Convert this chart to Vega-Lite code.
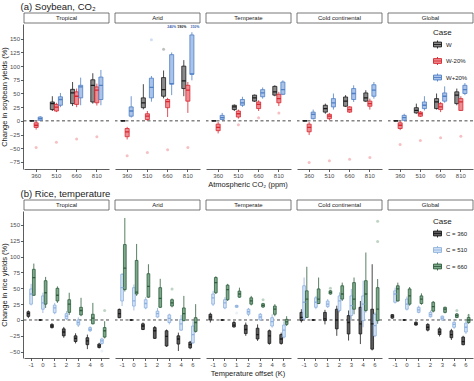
{
"$schema":"https://vega.github.io/schema/vega-lite/v6.json",
"padding":{"left":0,"top":2,"right":0,"bottom":0},
"background":"white",
"datasets":{
"regions":[{"r":"Tropical"},{"r":"Arid"},{"r":"Temperate"},{"r":"Cold continental"},{"r":"Global"}],
"top":[
{"k":"b","r":"Tropical","x":"360","c":"W","lo":0,"q1":0,"md":0,"q3":0,"hi":0},
{"k":"b","r":"Tropical","x":"360","c":"W-20%","lo":-16,"q1":-12,"md":-8,"q3":-3.6,"hi":0},
{"k":"b","r":"Tropical","x":"360","c":"W+20%","lo":0,"q1":1,"md":4,"q3":7,"hi":8.5},
{"k":"b","r":"Tropical","x":"510","c":"W","lo":18,"q1":20.6,"md":31.5,"q3":34.5,"hi":45},
{"k":"b","r":"Tropical","x":"510","c":"W-20%","lo":16,"q1":18,"md":25,"q3":30,"hi":33},
{"k":"b","r":"Tropical","x":"510","c":"W+20%","lo":25,"q1":28.5,"md":39,"q3":44,"hi":51},
{"k":"b","r":"Tropical","x":"660","c":"W","lo":27,"q1":31.5,"md":51,"q3":57.6,"hi":71},
{"k":"b","r":"Tropical","x":"660","c":"W-20%","lo":25,"q1":30,"md":45,"q3":53,"hi":59},
{"k":"b","r":"Tropical","x":"660","c":"W+20%","lo":28.5,"q1":42,"md":62,"q3":65,"hi":79},
{"k":"b","r":"Tropical","x":"810","c":"W","lo":31.5,"q1":34.5,"md":65,"q3":75,"hi":87},
{"k":"b","r":"Tropical","x":"810","c":"W-20%","lo":28,"q1":33,"md":56,"q3":62,"hi":68},
{"k":"b","r":"Tropical","x":"810","c":"W+20%","lo":28.5,"q1":39,"md":65,"q3":80,"hi":93},
{"k":"b","r":"Arid","x":"360","c":"W","lo":0,"q1":0,"md":0,"q3":0,"hi":0},
{"k":"b","r":"Arid","x":"360","c":"W-20%","lo":-34,"q1":-29,"md":-20,"q3":-14,"hi":-11},
{"k":"b","r":"Arid","x":"360","c":"W+20%","lo":6,"q1":8.5,"md":18,"q3":25.5,"hi":45},
{"k":"b","r":"Arid","x":"510","c":"W","lo":21,"q1":24,"md":33,"q3":42,"hi":67},
{"k":"b","r":"Arid","x":"510","c":"W-20%","lo":0,"q1":2.4,"md":8.5,"q3":13,"hi":18},
{"k":"b","r":"Arid","x":"510","c":"W+20%","lo":35,"q1":42,"md":61,"q3":78,"hi":82},
{"k":"b","r":"Arid","x":"660","c":"W","lo":41,"q1":45,"md":57,"q3":79,"hi":92},
{"k":"b","r":"Arid","x":"660","c":"W-20%","lo":7,"q1":24,"md":35,"q3":39,"hi":42},
{"k":"b","r":"Arid","x":"660","c":"W+20%","lo":47,"q1":67,"md":68,"q3":121,"hi":125},
{"k":"b","r":"Arid","x":"810","c":"W","lo":45,"q1":59,"md":73,"q3":100,"hi":111},
{"k":"b","r":"Arid","x":"810","c":"W-20%","lo":14.5,"q1":36,"md":56,"q3":65,"hi":71},
{"k":"b","r":"Arid","x":"810","c":"W+20%","lo":74,"q1":85,"md":86,"q3":157,"hi":162},
{"k":"b","r":"Temperate","x":"360","c":"W","lo":0,"q1":0,"md":0,"q3":0,"hi":0},
{"k":"b","r":"Temperate","x":"360","c":"W-20%","lo":-23,"q1":-18,"md":-12,"q3":-6,"hi":-2},
{"k":"b","r":"Temperate","x":"360","c":"W+20%","lo":1,"q1":2.4,"md":6,"q3":10,"hi":14.5},
{"k":"b","r":"Temperate","x":"510","c":"W","lo":18,"q1":20.6,"md":25.5,"q3":28.5,"hi":30},
{"k":"b","r":"Temperate","x":"510","c":"W-20%","lo":4,"q1":7,"md":13,"q3":18,"hi":20.6},
{"k":"b","r":"Temperate","x":"510","c":"W+20%","lo":25.5,"q1":28.5,"md":33,"q3":39,"hi":44},
{"k":"b","r":"Temperate","x":"660","c":"W","lo":34.5,"q1":36,"md":42,"q3":47,"hi":48},
{"k":"b","r":"Temperate","x":"660","c":"W-20%","lo":18,"q1":22.4,"md":30,"q3":34.5,"hi":37.6},
{"k":"b","r":"Temperate","x":"660","c":"W+20%","lo":40.6,"q1":44,"md":51,"q3":57,"hi":61},
{"k":"b","r":"Temperate","x":"810","c":"W","lo":45,"q1":47,"md":53,"q3":63,"hi":65},
{"k":"b","r":"Temperate","x":"810","c":"W-20%","lo":27,"q1":33,"md":40.6,"q3":48.5,"hi":53},
{"k":"b","r":"Temperate","x":"810","c":"W+20%","lo":47,"q1":48.5,"md":57,"q3":71,"hi":74},
{"k":"b","r":"Cold continental","x":"360","c":"W","lo":0,"q1":0,"md":0,"q3":0,"hi":0},
{"k":"b","r":"Cold continental","x":"360","c":"W-20%","lo":-26,"q1":-20,"md":-12,"q3":-6,"hi":-2},
{"k":"b","r":"Cold continental","x":"360","c":"W+20%","lo":2.4,"q1":4,"md":12,"q3":16,"hi":20.6},
{"k":"b","r":"Cold continental","x":"510","c":"W","lo":13,"q1":16,"md":22.4,"q3":28.5,"hi":31.5},
{"k":"b","r":"Cold continental","x":"510","c":"W-20%","lo":1,"q1":4,"md":8.5,"q3":12,"hi":14.5},
{"k":"b","r":"Cold continental","x":"510","c":"W+20%","lo":20.6,"q1":25.5,"md":33,"q3":40.6,"hi":50},
{"k":"b","r":"Cold continental","x":"660","c":"W","lo":25.5,"q1":26.7,"md":36,"q3":43.6,"hi":47},
{"k":"b","r":"Cold continental","x":"660","c":"W-20%","lo":14.5,"q1":16,"md":20.6,"q3":25.5,"hi":26.7},
{"k":"b","r":"Cold continental","x":"660","c":"W+20%","lo":34.5,"q1":39,"md":50,"q3":59,"hi":65},
{"k":"b","r":"Cold continental","x":"810","c":"W","lo":34.5,"q1":36,"md":42,"q3":51,"hi":56},
{"k":"b","r":"Cold continental","x":"810","c":"W-20%","lo":20.6,"q1":26.7,"md":31.5,"q3":36,"hi":40.6},
{"k":"b","r":"Cold continental","x":"810","c":"W+20%","lo":40.6,"q1":45,"md":56,"q3":66,"hi":71},
{"k":"b","r":"Global","x":"360","c":"W","lo":0,"q1":0,"md":0,"q3":0,"hi":0},
{"k":"b","r":"Global","x":"360","c":"W-20%","lo":-17,"q1":-14,"md":-8,"q3":-3.6,"hi":0},
{"k":"b","r":"Global","x":"360","c":"W+20%","lo":0,"q1":1,"md":6,"q3":10,"hi":13},
{"k":"b","r":"Global","x":"510","c":"W","lo":13,"q1":14.5,"md":19,"q3":24,"hi":31.5},
{"k":"b","r":"Global","x":"510","c":"W-20%","lo":7,"q1":8.5,"md":13,"q3":16,"hi":18},
{"k":"b","r":"Global","x":"510","c":"W+20%","lo":19,"q1":22.4,"md":28.5,"q3":34.5,"hi":45},
{"k":"b","r":"Global","x":"660","c":"W","lo":20.6,"q1":22.4,"md":34.5,"q3":40.6,"hi":50},
{"k":"b","r":"Global","x":"660","c":"W-20%","lo":16,"q1":20.6,"md":25.5,"q3":31.5,"hi":34.5},
{"k":"b","r":"Global","x":"660","c":"W+20%","lo":33,"q1":36,"md":45,"q3":51,"hi":63},
{"k":"b","r":"Global","x":"810","c":"W","lo":28.5,"q1":31.5,"md":47,"q3":53,"hi":59},
{"k":"b","r":"Global","x":"810","c":"W-20%","lo":18,"q1":19,"md":34.5,"q3":40.6,"hi":45},
{"k":"b","r":"Global","x":"810","c":"W+20%","lo":47,"q1":50,"md":57,"q3":65,"hi":69},
{"k":"o","r":"Tropical","x":"360","c":"W-20%","v":-48.5},
{"k":"o","r":"Tropical","x":"510","c":"W-20%","v":-39},
{"k":"o","r":"Tropical","x":"660","c":"W-20%","v":-33},
{"k":"o","r":"Tropical","x":"810","c":"W-20%","v":-29},
{"k":"o","r":"Arid","x":"360","c":"W-20%","v":-64},
{"k":"o","r":"Arid","x":"510","c":"W-20%","v":-58},
{"k":"o","r":"Arid","x":"510","c":"W+20%","v":148},
{"k":"o","r":"Arid","x":"660","c":"W","v":131},
{"k":"o","r":"Arid","x":"660","c":"W-20%","v":-53},
{"k":"o","r":"Arid","x":"810","c":"W-20%","v":-48.5},
{"k":"o","r":"Temperate","x":"510","c":"W-20%","v":-7},
{"k":"o","r":"Temperate","x":"660","c":"W-20%","v":5.5},
{"k":"o","r":"Temperate","x":"810","c":"W-20%","v":14.5},
{"k":"o","r":"Cold continental","x":"360","c":"W-20%","v":-76},
{"k":"o","r":"Cold continental","x":"510","c":"W-20%","v":-73},
{"k":"o","r":"Cold continental","x":"660","c":"W-20%","v":-70},
{"k":"o","r":"Cold continental","x":"810","c":"W-20%","v":-67},
{"k":"o","r":"Global","x":"360","c":"W-20%","v":-43},
{"k":"o","r":"Global","x":"510","c":"W-20%","v":-36},
{"k":"o","r":"Global","x":"660","c":"W-20%","v":-31},
{"k":"o","r":"Global","x":"810","c":"W-20%","v":-28},
{"k":"a","r":"Arid","x":"660","c":"W+20%","lab":"240%"},
{"k":"a","r":"Arid","x":"810","c":"W","lab":"190%"},
{"k":"a","r":"Arid","x":"810","c":"W+20%","lab":"310%"}
],
"bot":[
{"k":"b","r":"Tropical","x":"-1","c":"C = 360","lo":3,"q1":5.7,"md":10,"q3":13,"hi":15},
{"k":"b","r":"Tropical","x":"-1","c":"C = 510","lo":23,"q1":25,"md":41,"q3":49,"hi":57},
{"k":"b","r":"Tropical","x":"-1","c":"C = 660","lo":38,"q1":39,"md":67,"q3":80,"hi":89},
{"k":"b","r":"Tropical","x":"0","c":"C = 360","lo":0,"q1":0,"md":0,"q3":0,"hi":0},
{"k":"b","r":"Tropical","x":"0","c":"C = 510","lo":11,"q1":17,"md":27,"q3":38,"hi":43},
{"k":"b","r":"Tropical","x":"0","c":"C = 660","lo":19,"q1":25,"md":43,"q3":62,"hi":68},
{"k":"b","r":"Tropical","x":"1","c":"C = 360","lo":-13.5,"q1":-12,"md":-9.5,"q3":-7,"hi":-5},
{"k":"b","r":"Tropical","x":"1","c":"C = 510","lo":9,"q1":11.5,"md":19,"q3":23.5,"hi":27},
{"k":"b","r":"Tropical","x":"1","c":"C = 660","lo":27,"q1":30,"md":39,"q3":50,"hi":53},
{"k":"b","r":"Tropical","x":"2","c":"C = 360","lo":-28,"q1":-25,"md":-19,"q3":-14,"hi":-11},
{"k":"b","r":"Tropical","x":"2","c":"C = 510","lo":0,"q1":2,"md":6,"q3":10,"hi":14},
{"k":"b","r":"Tropical","x":"2","c":"C = 660","lo":8,"q1":12,"md":25,"q3":32,"hi":43},
{"k":"b","r":"Tropical","x":"3","c":"C = 360","lo":-37,"q1":-34,"md":-29,"q3":-25,"hi":-21},
{"k":"b","r":"Tropical","x":"3","c":"C = 510","lo":-11,"q1":-8,"md":-4,"q3":0,"hi":4},
{"k":"b","r":"Tropical","x":"3","c":"C = 660","lo":6,"q1":8,"md":15,"q3":20,"hi":35},
{"k":"b","r":"Tropical","x":"4","c":"C = 360","lo":-46,"q1":-39,"md":-33,"q3":-28,"hi":-23},
{"k":"b","r":"Tropical","x":"4","c":"C = 510","lo":-19,"q1":-17,"md":-15,"q3":-12,"hi":-10},
{"k":"b","r":"Tropical","x":"4","c":"C = 660","lo":-7,"q1":-6,"md":3,"q3":9,"hi":27},
{"k":"b","r":"Tropical","x":"6","c":"C = 360","lo":-45,"q1":-43.5,"md":-41,"q3":-38,"hi":-36},
{"k":"b","r":"Tropical","x":"6","c":"C = 510","lo":-39,"q1":-37,"md":-33,"q3":-30,"hi":-28},
{"k":"b","r":"Tropical","x":"6","c":"C = 660","lo":-29,"q1":-27,"md":-17,"q3":-12,"hi":-2},
{"k":"b","r":"Arid","x":"-1","c":"C = 360","lo":3,"q1":3.6,"md":10,"q3":16.7,"hi":18},
{"k":"b","r":"Arid","x":"-1","c":"C = 510","lo":22,"q1":30,"md":51,"q3":72,"hi":74},
{"k":"b","r":"Arid","x":"-1","c":"C = 660","lo":45,"q1":48,"md":82,"q3":119,"hi":161},
{"k":"b","r":"Arid","x":"0","c":"C = 360","lo":0,"q1":0,"md":0,"q3":0,"hi":0},
{"k":"b","r":"Arid","x":"0","c":"C = 510","lo":15,"q1":22,"md":30,"q3":51,"hi":56},
{"k":"b","r":"Arid","x":"0","c":"C = 660","lo":38,"q1":41,"md":44,"q3":94,"hi":120},
{"k":"b","r":"Arid","x":"1","c":"C = 360","lo":-16,"q1":-15,"md":-9.5,"q3":-6,"hi":-4},
{"k":"b","r":"Arid","x":"1","c":"C = 510","lo":17,"q1":19,"md":26,"q3":32,"hi":36},
{"k":"b","r":"Arid","x":"1","c":"C = 660","lo":35,"q1":36,"md":53,"q3":73,"hi":88},
{"k":"b","r":"Arid","x":"2","c":"C = 360","lo":-30,"q1":-29,"md":-17,"q3":-12,"hi":-9.5},
{"k":"b","r":"Arid","x":"2","c":"C = 510","lo":3.6,"q1":4.7,"md":10,"q3":14,"hi":19},
{"k":"b","r":"Arid","x":"2","c":"C = 660","lo":19,"q1":20,"md":34,"q3":51,"hi":65},
{"k":"b","r":"Arid","x":"3","c":"C = 360","lo":-42.5,"q1":-41,"md":-26,"q3":-17,"hi":-15},
{"k":"b","r":"Arid","x":"3","c":"C = 510","lo":-7,"q1":-4,"md":2.6,"q3":8,"hi":10},
{"k":"b","r":"Arid","x":"3","c":"C = 660","lo":20,"q1":22,"md":27,"q3":32,"hi":34},
{"k":"b","r":"Arid","x":"4","c":"C = 360","lo":-49,"q1":-38,"md":-30,"q3":-25,"hi":-20},
{"k":"b","r":"Arid","x":"4","c":"C = 510","lo":-17,"q1":-16,"md":-6,"q3":1,"hi":8},
{"k":"b","r":"Arid","x":"4","c":"C = 660","lo":-2,"q1":-1,"md":10,"q3":19,"hi":38},
{"k":"b","r":"Arid","x":"6","c":"C = 360","lo":-46,"q1":-44,"md":-39,"q3":-35,"hi":-33},
{"k":"b","r":"Arid","x":"6","c":"C = 510","lo":-38,"q1":-36,"md":-23,"q3":-9.5,"hi":-2},
{"k":"b","r":"Arid","x":"6","c":"C = 660","lo":-20,"q1":-18,"md":-4,"q3":3.6,"hi":25},
{"k":"b","r":"Temperate","x":"-1","c":"C = 360","lo":-4,"q1":0,"md":5,"q3":9,"hi":11.5},
{"k":"b","r":"Temperate","x":"-1","c":"C = 510","lo":22,"q1":25,"md":35,"q3":41,"hi":46},
{"k":"b","r":"Temperate","x":"-1","c":"C = 660","lo":41,"q1":43,"md":59,"q3":67,"hi":69},
{"k":"b","r":"Temperate","x":"0","c":"C = 360","lo":0,"q1":0,"md":0,"q3":0,"hi":0},
{"k":"b","r":"Temperate","x":"0","c":"C = 510","lo":17,"q1":19,"md":27,"q3":32,"hi":36},
{"k":"b","r":"Temperate","x":"0","c":"C = 660","lo":30,"q1":32,"md":48,"q3":55,"hi":57},
{"k":"b","r":"Temperate","x":"1","c":"C = 360","lo":-12,"q1":-11,"md":-8,"q3":-4,"hi":-1.6},
{"k":"b","r":"Temperate","x":"1","c":"C = 510","lo":19,"q1":20,"md":22,"q3":23,"hi":24},
{"k":"b","r":"Temperate","x":"1","c":"C = 660","lo":35,"q1":36,"md":41,"q3":45.6,"hi":51},
{"k":"b","r":"Temperate","x":"2","c":"C = 360","lo":-25,"q1":-21.5,"md":-15,"q3":-8,"hi":-4},
{"k":"b","r":"Temperate","x":"2","c":"C = 510","lo":6,"q1":9,"md":13,"q3":17,"hi":19},
{"k":"b","r":"Temperate","x":"2","c":"C = 660","lo":23,"q1":25,"md":30,"q3":35,"hi":38},
{"k":"b","r":"Temperate","x":"3","c":"C = 360","lo":-33,"q1":-30,"md":-23,"q3":-13,"hi":-7},
{"k":"b","r":"Temperate","x":"3","c":"C = 510","lo":-1,"q1":0,"md":4.7,"q3":9,"hi":11},
{"k":"b","r":"Temperate","x":"3","c":"C = 660","lo":19,"q1":20.5,"md":23,"q3":25.7,"hi":27},
{"k":"b","r":"Temperate","x":"4","c":"C = 360","lo":-39,"q1":-37,"md":-25,"q3":-17,"hi":-15},
{"k":"b","r":"Temperate","x":"4","c":"C = 510","lo":-12,"q1":-9.5,"md":-2.7,"q3":3.6,"hi":9},
{"k":"b","r":"Temperate","x":"4","c":"C = 660","lo":6,"q1":9,"md":17,"q3":22,"hi":25},
{"k":"b","r":"Temperate","x":"6","c":"C = 360","lo":-39,"q1":-37,"md":-30,"q3":-23,"hi":-20},
{"k":"b","r":"Temperate","x":"6","c":"C = 510","lo":-29,"q1":-27,"md":-16,"q3":-8,"hi":-2},
{"k":"b","r":"Temperate","x":"6","c":"C = 660","lo":-9.5,"q1":-7,"md":-3,"q3":1,"hi":6},
{"k":"b","r":"Cold continental","x":"-1","c":"C = 360","lo":-4,"q1":-1,"md":4,"q3":12,"hi":17},
{"k":"b","r":"Cold continental","x":"-1","c":"C = 510","lo":0,"q1":1.6,"md":28,"q3":54,"hi":67},
{"k":"b","r":"Cold continental","x":"-1","c":"C = 660","lo":4,"q1":4,"md":33,"q3":46,"hi":84},
{"k":"b","r":"Cold continental","x":"0","c":"C = 360","lo":0,"q1":0,"md":0,"q3":0,"hi":0},
{"k":"b","r":"Cold continental","x":"0","c":"C = 510","lo":17,"q1":20,"md":28,"q3":35,"hi":38},
{"k":"b","r":"Cold continental","x":"0","c":"C = 660","lo":25,"q1":26,"md":33,"q3":49,"hi":67},
{"k":"b","r":"Cold continental","x":"1","c":"C = 360","lo":-7,"q1":-1,"md":1.6,"q3":12,"hi":16},
{"k":"b","r":"Cold continental","x":"1","c":"C = 510","lo":19,"q1":21,"md":25,"q3":30,"hi":33},
{"k":"b","r":"Cold continental","x":"1","c":"C = 660","lo":40,"q1":41,"md":43.6,"q3":46,"hi":47},
{"k":"b","r":"Cold continental","x":"2","c":"C = 360","lo":-25,"q1":-14,"md":0,"q3":17,"hi":22.5},
{"k":"b","r":"Cold continental","x":"2","c":"C = 510","lo":12,"q1":15,"md":30,"q3":38,"hi":43.6},
{"k":"b","r":"Cold continental","x":"2","c":"C = 660","lo":30,"q1":33,"md":41,"q3":54,"hi":59},
{"k":"b","r":"Cold continental","x":"3","c":"C = 360","lo":-32.5,"q1":-22,"md":-4,"q3":7,"hi":15},
{"k":"b","r":"Cold continental","x":"3","c":"C = 510","lo":-1,"q1":7,"md":22.6,"q3":38,"hi":49},
{"k":"b","r":"Cold continental","x":"3","c":"C = 660","lo":9,"q1":17,"md":33,"q3":59,"hi":67},
{"k":"b","r":"Cold continental","x":"4","c":"C = 360","lo":-38,"q1":-22,"md":-6,"q3":20,"hi":30},
{"k":"b","r":"Cold continental","x":"4","c":"C = 510","lo":-11.5,"q1":-1,"md":25,"q3":38,"hi":62},
{"k":"b","r":"Cold continental","x":"4","c":"C = 660","lo":12,"q1":15,"md":41,"q3":62,"hi":106.5},
{"k":"b","r":"Cold continental","x":"6","c":"C = 360","lo":-48,"q1":-46,"md":-6,"q3":17,"hi":88},
{"k":"b","r":"Cold continental","x":"6","c":"C = 510","lo":-27,"q1":-25,"md":-9,"q3":9,"hi":12},
{"k":"b","r":"Cold continental","x":"6","c":"C = 660","lo":-6,"q1":-1,"md":17,"q3":51,"hi":64.6},
{"k":"b","r":"Global","x":"-1","c":"C = 360","lo":2,"q1":3,"md":6,"q3":8.4,"hi":9},
{"k":"b","r":"Global","x":"-1","c":"C = 510","lo":26,"q1":28,"md":41,"q3":46,"hi":51},
{"k":"b","r":"Global","x":"-1","c":"C = 660","lo":29,"q1":30,"md":49,"q3":54,"hi":59},
{"k":"b","r":"Global","x":"0","c":"C = 360","lo":0,"q1":0,"md":0,"q3":0,"hi":0},
{"k":"b","r":"Global","x":"0","c":"C = 510","lo":15,"q1":17,"md":25,"q3":33,"hi":37},
{"k":"b","r":"Global","x":"0","c":"C = 660","lo":22.6,"q1":25,"md":38,"q3":49,"hi":52},
{"k":"b","r":"Global","x":"1","c":"C = 360","lo":-9,"q1":-8,"md":-6,"q3":-3.7,"hi":-2},
{"k":"b","r":"Global","x":"1","c":"C = 510","lo":10.5,"q1":12,"md":16,"q3":20,"hi":22.6},
{"k":"b","r":"Global","x":"1","c":"C = 660","lo":24,"q1":26,"md":33,"q3":38,"hi":42},
{"k":"b","r":"Global","x":"2","c":"C = 360","lo":-18,"q1":-16,"md":-11.5,"q3":-7,"hi":-5},
{"k":"b","r":"Global","x":"2","c":"C = 510","lo":4,"q1":5,"md":8.4,"q3":12,"hi":15},
{"k":"b","r":"Global","x":"2","c":"C = 660","lo":12,"q1":14,"md":21,"q3":28,"hi":30},
{"k":"b","r":"Global","x":"3","c":"C = 360","lo":-26,"q1":-23,"md":-19,"q3":-14,"hi":-11.5},
{"k":"b","r":"Global","x":"3","c":"C = 510","lo":-1,"q1":0,"md":3,"q3":6,"hi":7},
{"k":"b","r":"Global","x":"3","c":"C = 660","lo":10.5,"q1":12,"md":17,"q3":20,"hi":21},
{"k":"b","r":"Global","x":"4","c":"C = 360","lo":-31.5,"q1":-28,"md":-23,"q3":-17,"hi":-14},
{"k":"b","r":"Global","x":"4","c":"C = 510","lo":-14,"q1":-11.5,"md":-7,"q3":-3.7,"hi":-1},
{"k":"b","r":"Global","x":"4","c":"C = 660","lo":3,"q1":4,"md":7,"q3":9.5,"hi":11},
{"k":"b","r":"Global","x":"6","c":"C = 360","lo":-40,"q1":-39,"md":-34,"q3":-27,"hi":-25},
{"k":"b","r":"Global","x":"6","c":"C = 510","lo":-22,"q1":-19,"md":-11.5,"q3":-5,"hi":-1},
{"k":"b","r":"Global","x":"6","c":"C = 660","lo":-6,"q1":-4,"md":0,"q3":4,"hi":9.5},
{"k":"o","r":"Tropical","x":"6","c":"C = 510","v":-49},
{"k":"o","r":"Tropical","x":"6","c":"C = 660","v":15},
{"k":"o","r":"Arid","x":"3","c":"C = 660","v":49},
{"k":"o","r":"Temperate","x":"1","c":"C = 510","v":11},
{"k":"o","r":"Temperate","x":"3","c":"C = 660","v":32},
{"k":"o","r":"Cold continental","x":"1","c":"C = 660","v":50},
{"k":"o","r":"Cold continental","x":"6","c":"C = 660","v":156},
{"k":"o","r":"Cold continental","x":"6","c":"C = 660","v":124},
{"k":"o","r":"Global","x":"4","c":"C = 660","v":15},
{"k":"o","r":"Global","x":"6","c":"C = 660","v":7}
]
},
"vconcat":[
 {"data":{"name":"regions"},
  "title":{"text":"(a) Soybean, CO₂","dx":-3},
  "facet":{"column":{"field":"r","type":"nominal","sort":["Tropical","Arid","Temperate","Cold continental","Global"],"header":null}},
  "spacing":4,
  "resolve":{"scale":{"x":"independent"}},
  "spec":{"width":85,"height":10,"layer":[
   {"mark":{"type":"rect","fill":"white","stroke":"#555555","strokeWidth":0.8},
    "encoding":{"x":{"field":"r","type":"nominal","axis":null,"scale":{"paddingInner":0,"paddingOuter":0}}}},
   {"mark":{"type":"text","fontSize":6,"color":"#1a1a1a"},
    "encoding":{"x":{"field":"r","type":"nominal","axis":null,"scale":{"paddingInner":0,"paddingOuter":0}},"text":{"field":"r"}}}
  ]}},
 {"data":{"name":"top"},
  "facet":{"column":{"field":"r","type":"nominal","sort":["Tropical","Arid","Temperate","Cold continental","Global"],"title":"Atmospheric CO₂ (ppm)","header":{"labels":false,"labelPadding":0,"titleOrient":"bottom","titleFontSize":7.5,"titleFontWeight":"normal","titleColor":"#1a1a1a","titlePadding":-8}}},
  "spacing":4,
  "spec":{"width":85,"height":145,"layer":[
   {"transform":[{"filter":"datum.k==='b'"},{"aggregate":[{"op":"count","as":"n"}],"groupby":["r"]}],
    "mark":{"type":"rule","strokeDash":[3,2.5],"color":"#1a1a1a","strokeWidth":0.8},
    "encoding":{"y":{"datum":0,"type":"quantitative","scale":{"domain":[-88,177],"nice":false,"zero":false},"title":"Change in soybean yields (%)","axis":{"values":[-75,-50,-25,0,25,50,75,100,125,150]}}}},
   {"encoding":{
     "x":{"field":"x","type":"nominal","sort":["360","510","660","810"],"scale":{"paddingInner":0,"paddingOuter":0.1},"axis":{"labelAngle":0,"title":null}},
     "xOffset":{"field":"c","type":"nominal","sort":["W","W-20%","W+20%"],"scale":{"paddingInner":0,"paddingOuter":1.73}}},
    "layer":[
    {"transform":[{"filter":"datum.k==='b'"}],"mark":{"type":"rule","strokeWidth":0.8},
     "encoding":{"y":{"field":"lo","type":"quantitative","title":"Change in soybean yields (%)","axis":{"values":[-75,-50,-25,0,25,50,75,100,125,150]}},"y2":{"field":"hi"},
      "stroke":{"field":"c","type":"nominal","scale":{"domain":["W","W-20%","W+20%"],"range":["#1a1a1a","#d7262e","#4f7fc4"]},"legend":{"title":"Case","orient":"none","legendX":409,"legendY":5}}}},
    {"transform":[{"filter":"datum.k==='b'"}],"mark":{"type":"bar","strokeWidth":0.8},
     "encoding":{"y":{"field":"q1","type":"quantitative","title":"Change in soybean yields (%)","axis":{"values":[-75,-50,-25,0,25,50,75,100,125,150]}},"y2":{"field":"q3"},
      "fill":{"field":"c","type":"nominal","scale":{"domain":["W","W-20%","W+20%"],"range":["#8a8a8a","#ee8c92","#a9c3ea"]},"legend":{"title":"Case","orient":"none","legendX":409,"legendY":5}},
      "stroke":{"field":"c","type":"nominal","legend":{"title":"Case","orient":"none","legendX":409,"legendY":5}}}},
    {"transform":[{"filter":"datum.k==='b'"}],"mark":{"type":"bar","strokeWidth":1.3,"fillOpacity":0},
     "encoding":{"y":{"field":"md","type":"quantitative","title":"Change in soybean yields (%)","axis":{"values":[-75,-50,-25,0,25,50,75,100,125,150]}},"y2":{"field":"md"},
      "stroke":{"field":"c","type":"nominal","legend":{"title":"Case","orient":"none","legendX":409,"legendY":5}}}},
    {"transform":[{"filter":"datum.k==='o'"}],"mark":{"type":"point","filled":true,"size":9,"opacity":0.55},
     "encoding":{"y":{"field":"v","type":"quantitative","title":"Change in soybean yields (%)","axis":{"values":[-75,-50,-25,0,25,50,75,100,125,150]}},
      "fill":{"field":"c","type":"nominal","legend":{"title":"Case","orient":"none","legendX":409,"legendY":5}}}},
    {"transform":[{"filter":"datum.k==='a' && datum.lab==='240%'"}],"mark":{"type":"text","fontSize":3.5,"fontWeight":"bold","color":"#3b5fb0","dx":0},
     "encoding":{"y":{"datum":172,"type":"quantitative","title":"Change in soybean yields (%)","axis":{"values":[-75,-50,-25,0,25,50,75,100,125,150]}},"text":{"field":"lab"}}},
    {"transform":[{"filter":"datum.k==='a' && datum.lab==='190%'"}],"mark":{"type":"text","fontSize":3.5,"fontWeight":"bold","color":"#1a1a1a","dx":-2},
     "encoding":{"y":{"datum":172,"type":"quantitative","title":"Change in soybean yields (%)","axis":{"values":[-75,-50,-25,0,25,50,75,100,125,150]}},"text":{"field":"lab"}}},
    {"transform":[{"filter":"datum.k==='a' && datum.lab==='310%'"}],"mark":{"type":"text","fontSize":3.5,"fontWeight":"bold","color":"#3b5fb0","dx":3},
     "encoding":{"y":{"datum":172,"type":"quantitative","title":"Change in soybean yields (%)","axis":{"values":[-75,-50,-25,0,25,50,75,100,125,150]}},"text":{"field":"lab"}}}
   ]}
  ]}},
 {"data":{"name":"regions"},
  "title":{"text":"(b) Rice, temperature","dx":-3},
  "facet":{"column":{"field":"r","type":"nominal","sort":["Tropical","Arid","Temperate","Cold continental","Global"],"header":null}},
  "spacing":4,
  "resolve":{"scale":{"x":"independent"}},
  "spec":{"width":85,"height":10,"layer":[
   {"mark":{"type":"rect","fill":"white","stroke":"#555555","strokeWidth":0.8},
    "encoding":{"x":{"field":"r","type":"nominal","axis":null,"scale":{"paddingInner":0,"paddingOuter":0}}}},
   {"mark":{"type":"text","fontSize":6,"color":"#1a1a1a"},
    "encoding":{"x":{"field":"r","type":"nominal","axis":null,"scale":{"paddingInner":0,"paddingOuter":0}},"text":{"field":"r"}}}
  ]}},
 {"data":{"name":"bot"},
  "facet":{"column":{"field":"r","type":"nominal","sort":["Tropical","Arid","Temperate","Cold continental","Global"],"title":"Temperature offset (K)","header":{"labels":false,"labelPadding":0,"titleOrient":"bottom","titleFontSize":7.5,"titleFontWeight":"normal","titleColor":"#1a1a1a","titlePadding":-8}}},
  "spacing":4,
  "spec":{"width":85,"height":147,"layer":[
   {"transform":[{"filter":"datum.k==='b'"},{"aggregate":[{"op":"count","as":"n"}],"groupby":["r"]}],
    "mark":{"type":"rule","strokeDash":[3,2.5],"color":"#1a1a1a","strokeWidth":0.8},
    "encoding":{"y":{"datum":0,"type":"quantitative","scale":{"domain":[-60,172],"nice":false,"zero":false},"title":"Change in rice yields (%)","axis":{"values":[-50,-25,0,25,50,75,100,125,150]}}}},
   {"encoding":{
     "x":{"field":"x","type":"nominal","sort":["-1","0","1","2","3","4","6"],"scale":{"paddingInner":0,"paddingOuter":0.1},"axis":{"labelAngle":0,"title":null}},
     "xOffset":{"field":"c","type":"nominal","sort":["C = 360","C = 510","C = 660"],"scale":{"paddingInner":0,"paddingOuter":0.66}}},
    "layer":[
    {"transform":[{"filter":"datum.k==='b'"}],"mark":{"type":"rule","strokeWidth":0.8},
     "encoding":{"y":{"field":"lo","type":"quantitative","title":"Change in rice yields (%)","axis":{"values":[-50,-25,0,25,50,75,100,125,150]}},"y2":{"field":"hi"},
      "stroke":{"field":"c","type":"nominal","scale":{"domain":["C = 360","C = 510","C = 660"],"range":["#1a1a1a","#8db0de","#2f5e3e"]},"legend":{"title":"Case","orient":"none","legendX":409,"legendY":7}}}},
    {"transform":[{"filter":"datum.k==='b'"}],"mark":{"type":"bar","strokeWidth":0.8},
     "encoding":{"y":{"field":"q1","type":"quantitative","title":"Change in rice yields (%)","axis":{"values":[-50,-25,0,25,50,75,100,125,150]}},"y2":{"field":"q3"},
      "fill":{"field":"c","type":"nominal","scale":{"domain":["C = 360","C = 510","C = 660"],"range":["#5c5c5c","#d3e3f6","#7ea98c"]},"legend":{"title":"Case","orient":"none","legendX":409,"legendY":7}},
      "stroke":{"field":"c","type":"nominal","legend":{"title":"Case","orient":"none","legendX":409,"legendY":7}}}},
    {"transform":[{"filter":"datum.k==='b'"}],"mark":{"type":"bar","strokeWidth":1.3,"fillOpacity":0},
     "encoding":{"y":{"field":"md","type":"quantitative","title":"Change in rice yields (%)","axis":{"values":[-50,-25,0,25,50,75,100,125,150]}},"y2":{"field":"md"},
      "stroke":{"field":"c","type":"nominal","legend":{"title":"Case","orient":"none","legendX":409,"legendY":7}}}},
    {"transform":[{"filter":"datum.k==='o'"}],"mark":{"type":"point","filled":true,"size":9,"opacity":0.5},
     "encoding":{"y":{"field":"v","type":"quantitative","title":"Change in rice yields (%)","axis":{"values":[-50,-25,0,25,50,75,100,125,150]}},
      "fill":{"field":"c","type":"nominal","legend":{"title":"Case","orient":"none","legendX":409,"legendY":7}}}}
   ]}
  ]}}
],
"spacing":0,
"resolve":{"scale":{"x":"independent","y":"independent","xOffset":"independent","fill":"independent","stroke":"independent"},"legend":{"fill":"independent","stroke":"independent"}},
"config":{
 "font":"Liberation Sans",
 "view":{"stroke":null},
 "title":{"fontSize":9.5,"fontWeight":"normal","anchor":"start","color":"#1a1a1a","offset":1},
 "axis":{"labelFontSize":6,"labelColor":"#4d4d4d","titleFontSize":7.5,"titleFontWeight":"normal","titleColor":"#1a1a1a","domainColor":"#333333","tickColor":"#333333","tickSize":2.5,"labelPadding":1,"grid":false,"domainWidth":0.8,"tickWidth":0.8,"titlePadding":1,"labelOverlap":false},
 "legend":{"titleFontSize":8,"titleFontWeight":"normal","labelFontSize":6,"titleColor":"#1a1a1a","labelColor":"#1a1a1a","symbolType":"M-1,-0.6H1V0.6H-1Z M-1,0H1 M0,-0.6V-1 M0,0.6V1","symbolSize":64,"symbolStrokeWidth":0.9,"rowPadding":3.5,"titlePadding":3,"labelOffset":4}
}
}
